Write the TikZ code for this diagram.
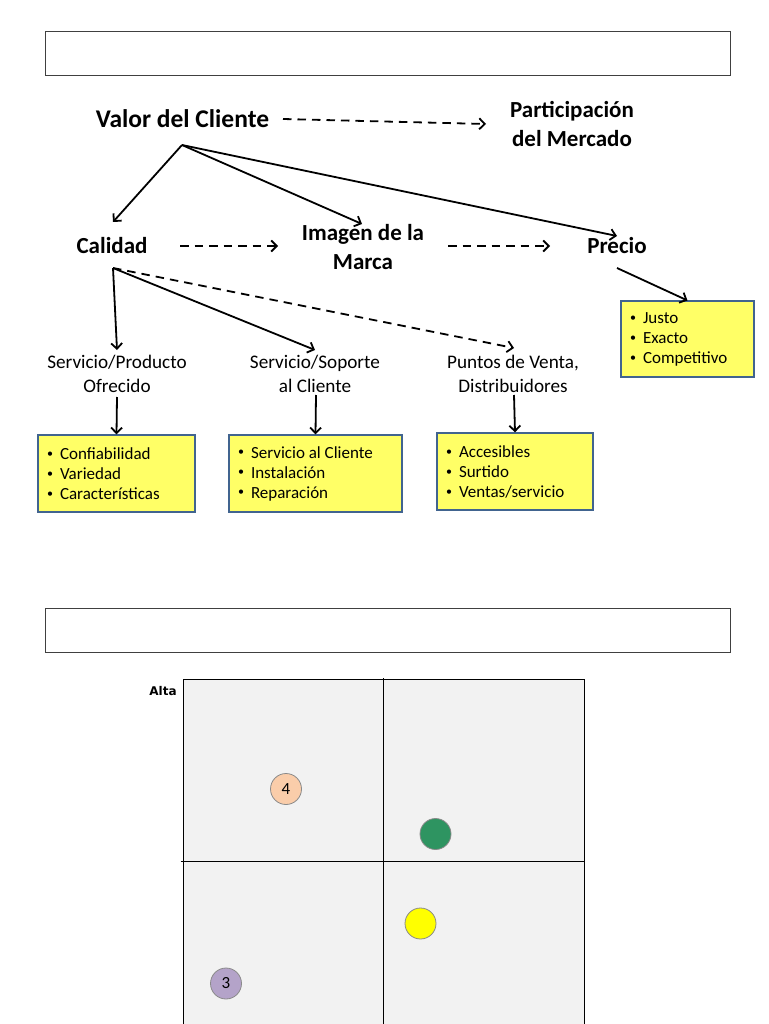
\documentclass[tikz,border=0pt]{standalone}
\usepackage{fontspec}
\setmainfont{Carlito}
\newfontfamily\dvs{DejaVu Sans}
\usetikzlibrary{arrows.meta}
\definecolor{boxyellow}{HTML}{FFFF66}
\definecolor{boxblue}{HTML}{41648F}
\definecolor{quadgray}{HTML}{F2F2F2}
\definecolor{cpeach}{HTML}{FACDAA}
\definecolor{cgreen}{HTML}{2E9461}
\definecolor{cpurple}{HTML}{B4A3C9}
\definecolor{cyellow}{HTML}{FFFF00}
\definecolor{cborder}{HTML}{8A8A8A}
\tikzset{
  big/.style={inner sep=0pt, font=\fontsize{25.5}{29}\selectfont\bfseries},
  mid/.style={inner sep=0pt, align=center, font=\fontsize{23}{29}\selectfont\bfseries},
  lab/.style={inner sep=0pt, align=center, font=\fontsize{19.2}{24}\selectfont},
  titlebox/.style={draw=black!75, line width=1pt, minimum width=685pt, minimum height=44pt, inner sep=0pt},
  ybox/.style={draw=boxblue, fill=boxyellow, line width=1.3pt, inner xsep=9pt, inner ysep=0pt, align=flush left, font=\fontsize{17}{20}\selectfont},
  arr/.style={line width=1.8pt, -{Straight Barb[length=5.5pt,width=11pt]}},
  darr/.style={arr, dash pattern=on 8.5pt off 6pt},
  dot/.style={circle, draw=cborder, line width=0.8pt, minimum size=31pt, inner sep=0pt, font=\fontsize{17}{20}\selectfont},
}
\newcommand{\bitem}[1]{\makebox[13pt][l]{\raisebox{0.12em}{\fontsize{12}{12}\selectfont\textbullet}}#1}
\begin{document}
\begin{tikzpicture}[x=1pt,y=-1pt]
\clip (0,0) rectangle (768,1024);
\fill[white] (0,0) rectangle (768,1024);
% title boxes
\node[titlebox] (t1) at (387.5,54) {};
\node[titlebox] (t2) at (387.5,630) {};
% main nodes
\node[big] (valor) at (182.5,119) {Valor del Cliente};
\node[mid] (part) at (572,124.5) {Participación\\del Mercado};
\node[mid] (calidad) at (112,246) {Calidad};
\node[mid] (imagen) at (363,247.5) {Imagen de la\\Marca};
\node[mid] (precio) at (617,246) {Precio};
\node[lab] (sp1) at (117,374) {Servicio/Producto\\Ofrecido};
\node[lab] (sp2) at (315,374) {Servicio/Soporte\\al Cliente};
\node[lab] (sp3) at (513,374) {Puntos de Venta,\\Distribuidores};
% yellow boxes
\node[ybox, text width=139pt, minimum height=77pt] (b1) at (116.5,473.5) {\bitem{Confiabilidad}\\\bitem{Variedad}\\\bitem{Características}};
\node[ybox, text width=155pt, minimum height=77pt] (b2) at (315.5,473.5) {\bitem{Servicio al Cliente}\\\bitem{Instalación}\\\bitem{Reparación}};
\node[ybox, text width=138pt, minimum height=77pt] (b3) at (515,471.5) {\bitem{Accesibles}\\\bitem{Surtido}\\\bitem{Ventas/servicio}};
\node[ybox, text width=115pt, minimum height=76pt] (b4) at (687.5,339) {\bitem{Justo}\\\bitem{Exacto}\\\bitem{Competitivo}};
% connector coordinates
\coordinate (vt) at (182,145);
\coordinate (valE) at (283,119);
\coordinate (partW) at (486,124);
\coordinate (calN) at (113,222);
\coordinate (imgN) at (362,224);
\coordinate (preN) at (617,236);
\coordinate (calE) at (180,246);
\coordinate (imgW) at (278,246);
\coordinate (imgE) at (448,246);
\coordinate (preW) at (550,246);
\coordinate (calS) at (113,268);
\coordinate (sp1N) at (117,350);
\coordinate (sp2N) at (315,350);
\coordinate (sp3N) at (514,348);
\coordinate (sp1S) at (117,397);
\coordinate (sp2S) at (316,395);
\coordinate (sp3S) at (514,395);
\coordinate (preS) at (617,268);
% connectors
\draw[darr] (valE) -- (partW);
\draw[arr] (vt) -- (calN);
\draw[arr] (vt) -- (imgN);
\draw[arr] (vt) -- (preN);
\draw[darr] (calE) -- (imgW);
\draw[darr] (imgE) -- (preW);
\draw[arr] (calS) -- (sp1N);
\draw[arr] (calS) -- (sp2N);
\draw[darr] (calS) -- (sp3N);
\draw[arr] (sp1S) -- (b1.north);
\draw[arr] (sp2S) -- (b2.north);
\draw[arr] (sp3S) -- (b3.north);
\draw[arr] (preS) -- (687.5,300.5);
% quadrant chart
\fill[quadgray] (183,679) rectangle (584,1030);
\draw[black, line width=1pt] (183,1030) -- (183,679) -- (584,679) -- (584,1030);
\draw[black, line width=1pt] (383,678) -- (383,1030);
\draw[black, line width=1pt] (180.5,861.5) -- (584,861.5);
\node[inner sep=0pt, font=\dvs\fontsize{12}{14}\selectfont\bfseries] (alta) at (163,691) {Alta};
\node[dot, fill=cpeach] (c4) at (286,789) {4};
\node[dot, fill=cgreen] (cg) at (435.5,834) {};
\node[dot, fill=cyellow] (cy) at (420.5,923.5) {};
\node[dot, fill=cpurple] (c3) at (226,983.5) {3};
\end{tikzpicture}
\end{document}
